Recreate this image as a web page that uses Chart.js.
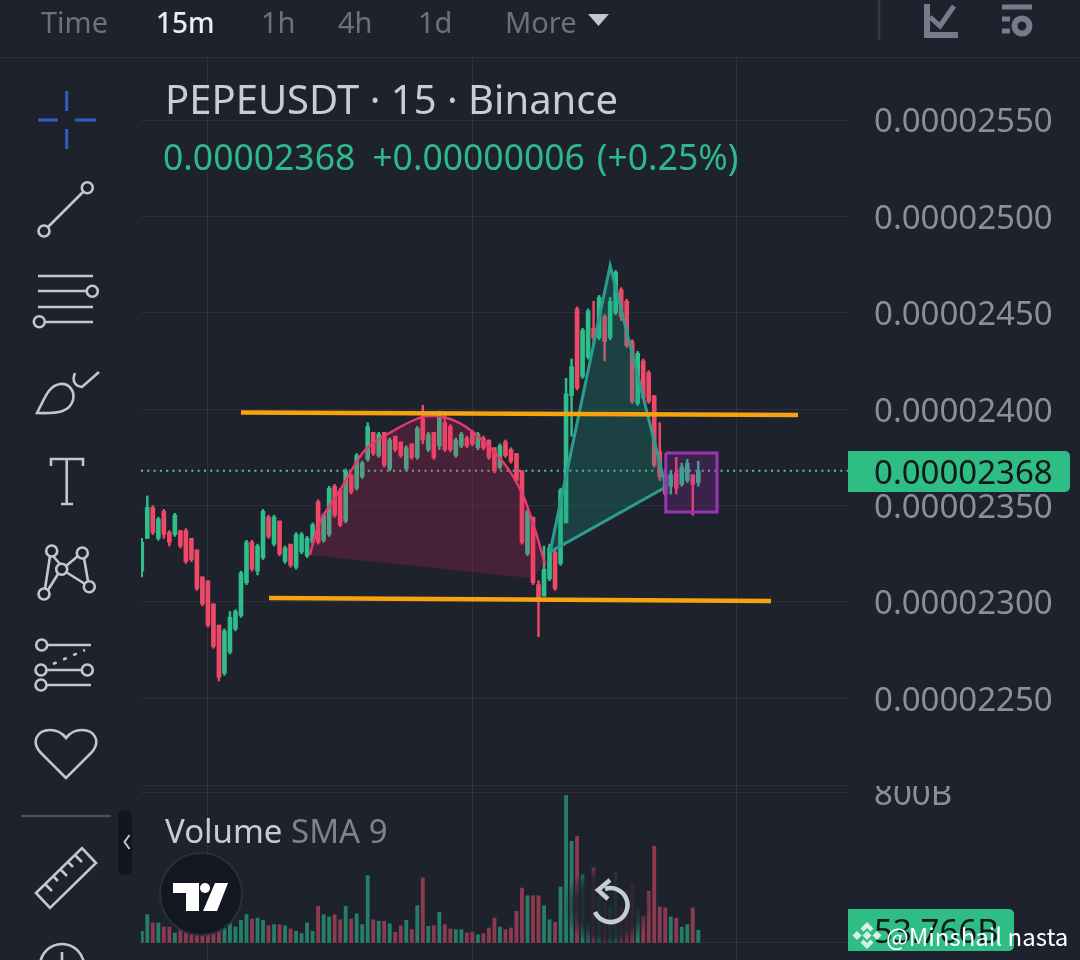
<!DOCTYPE html>
<html><head><meta charset="utf-8">
<style>
html,body{margin:0;padding:0;background:#1e222d;width:1080px;height:960px;overflow:hidden}
#wrap{position:relative;width:1080px;height:960px;font-family:'Noto Sans',Roboto,sans-serif}
canvas{position:absolute;left:0;top:0;filter:blur(.45px)}
.t{position:absolute;white-space:nowrap;line-height:1;z-index:3}
.tab{top:7px;font-size:29px;color:#6c717b}
.pill{position:absolute;background:#2ebd85;border-radius:0 5px 5px 0;z-index:2}
svg.ov{position:absolute;left:0;top:0;z-index:4;pointer-events:none}
#mask{position:absolute;left:849px;top:770px;width:231px;height:16px;background:#1e222d;z-index:2}
.hl{position:absolute;background:rgba(255,255,255,.06);height:1px;z-index:1}
</style>
<script src="https://cdn.jsdelivr.net/npm/chart.js@4"></script>
</head><body><div id="wrap">
<canvas id="c" width="1080" height="960"></canvas>
<div id="mask"></div>
<div class="hl" style="left:0;top:57px;width:1080px"></div>
<div class="hl" style="left:141px;top:785px;width:939px"></div>
<div class="t tab" style="left:41px">Time</div>
<div class="t tab" style="left:156px;color:#eceef1;font-weight:500;font-size:28px;top:8px">15m</div>
<div class="t tab" style="left:261px">1h</div>
<div class="t tab" style="left:338px">4h</div>
<div class="t tab" style="left:418px">1d</div>
<div class="t tab" style="left:505px">More</div>
<div class="t" style="left:165px;top:79px;font-size:40px;color:#c9ccd2">PEPEUSDT · 15 · Binance</div>
<div class="t" style="left:163px;top:139px;font-size:35.500px;color:#2eb98a">0.00002368<span style="margin-left:17px">+0.00000006</span><span style="margin-left:12px">(+0.25%)</span></div>
<div class="t" style="left:165px;top:814px;font-size:33px;color:#c9ccd2">Volume <span style="color:#7d828c">SMA 9</span></div>
<div class="pill" style="left:848px;top:451px;width:222px;height:41px"></div>
<div class="t" style="left:874px;top:455px;font-size:33px;color:#14171c">0.00002368</div>
<div class="pill" style="left:848px;top:909px;width:166px;height:42px"></div>
<div class="t" style="left:874px;top:914px;font-size:33px;color:#14171c">53.766B</div>
<div class="t" style="left:886px;top:924px;font-size:24px;color:#fff;font-family:'Noto Sans CJK SC','Noto Sans',sans-serif;z-index:6">@Minshail nasta</div>
<svg class="ov" width="1080" height="960" fill="none" stroke="#c3c6cc" stroke-width="2.6">
<defs><radialGradient id="halo"><stop offset="0.7" stop-color="#1e222d" stop-opacity=".85"/><stop offset="1" stop-color="#1e222d" stop-opacity="0"/></radialGradient></defs>
<path d="M588 14h21l-10.5 12z" fill="#c3c6cc" stroke="none"/>
<path d="M879 0v40" stroke="#343a46"/>
<g stroke="#757b8a" stroke-width="6"><path d="M927 4v31h31"/><path d="M930 17l10 9 14-20" stroke-width="5"/></g>
<g stroke="#757b8a" stroke-width="5"><path d="M1002 7h30M1002 19h8M1002 31h8"/></g>
<circle cx="1022" cy="26" r="7.5" stroke="#757b8a" stroke-width="6"/>
<g stroke="#2f5fc4" stroke-width="3"><path d="M66.7 91v20M66.7 129v20M38 120h20M75 120h21"/></g>
<circle cx="44" cy="231" r="5.5"/><circle cx="87.3" cy="187.7" r="5.5"/><path d="M48 227l35.500-35.500"/>
<path d="M38 276h55M38 291h49M38 307h55M45 322h48"/><circle cx="92.300" cy="291.300" r="5.500"/><circle cx="39.300" cy="321.700" r="5.500"/>
<path d="M37 413C45 398 48 386 60 384C70 383 75 392 73 400C70 411 60 414 37 413Z"/><path d="M75 373C72 380 74 386 82 387L99 372"/>
<path d="M51 466v-7h32v7M66.700 459v45M61 504h12"/>
<circle cx="51.700" cy="551" r="5.500"/><circle cx="82.300" cy="553" r="5.500"/><circle cx="61.700" cy="569.300" r="5.500"/><circle cx="44" cy="594" r="5.500"/><circle cx="89.300" cy="586.700" r="5.500"/>
<path d="M50 556L45 589M53 556L60 564M48 590L58 574M66 566L78 556M84 558L88 581M66 572L85 584"/>
<circle cx="41.700" cy="645" r="5.500"/><path d="M47 645h44"/><path d="M53 664L85 650" stroke-dasharray="4 7"/>
<circle cx="41" cy="670" r="5.500"/><circle cx="87.300" cy="670" r="5.500"/><path d="M46.500 670h35"/>
<circle cx="41" cy="685" r="5.500"/><path d="M46.500 685h44.500"/>
<path d="M66 778L41 753C30 741 38 730 50 730C58 730 63 734 66 738C69 734 74 730 82 730C94 730 102 741 91 753Z"/>
<path d="M21 816h90" stroke="#4a4f59"/>
<path d="M36 893L82 848L96 863L50 908Z"/><path d="M45 884l7 7M53 876l5 5M60 869l7 7M68 862l5 5M75 855l7 7"/>
<circle cx="62" cy="966" r="22"/><path d="M62 952v12"/>
<rect x="118" y="810" width="14" height="65" rx="6" fill="#13161e" stroke="none"/><path d="M129.500 835l-5 7 5 7" stroke-width="2"/>
<circle cx="201" cy="894" r="41" fill="#131722" stroke="#2b2f3a" stroke-width="2"/>
<path d="M173 883H199V911H186V893H173ZM215 883H228L217 911H203Z" fill="#fff" stroke="none"/><circle cx="205" cy="888" r="5" fill="#fff" stroke="none"/>
<circle cx="608" cy="906" r="44" fill="url(#halo)" stroke="none"/>
<path d="M605 889A17 17 0 1 1 595 912" stroke="#c8ccd3" stroke-width="4.500"/><path d="M610 880L598 890L608 899" stroke="#c8ccd3" stroke-width="4.500"/>
<g fill="#d9efe6" stroke="none"><path d="M867 922l6.500 6.500-3 3-3.500-3.500-3.500 3.500-3-3zM867 949l6.500-6.500-3-3-3.500 3.500-3.500-3.500-3 3zM867 931l4.500 4.500-4.500 4.500-4.500-4.500zM857 931l4.500 4.500-4.500 4.500-4.500-4.500zM877 931l4.500 4.500-4.500 4.500-4.500-4.500z"/></g>
</svg>
</div>
<script>
const opens=[2316,2333,2349,2333,2347,2336,2335,2337,2337,2333,2327,2313,2311,2299,2288,2263,2274,2286,2293,2310,2331,2316,2323,2344,2330,2342,2321,2330,2318,2326,2324,2331,2352,2332,2335,2360,2358,2342,2366,2359,2365,2374,2388,2376,2388,2369,2386,2383,2369,2382,2375,2395,2379,2388,2381,2393,2391,2376,2381,2385,2388,2380,2385,2384,2380,2370,2383,2379,2377,2368,2325,2344,2309,2303,2312,2326,2320,2341,2407,2452,2417,2427,2442,2437,2448,2437,2450,2462,2456,2435,2403,2425,2419,2407,2378,2366,2360,2367,2361,2363,2366,2362];
const closes=[2331,2349,2336,2343,2335,2331,2345,2329,2321,2322,2307,2299,2288,2277,2261,2285,2292,2295,2315,2331,2317,2329,2347,2334,2344,2325,2328,2319,2335,2335,2333,2340,2331,2345,2359,2345,2340,2368,2357,2376,2372,2391,2377,2387,2371,2384,2379,2376,2380,2375,2390,2384,2387,2375,2397,2379,2379,2384,2387,2381,2382,2387,2380,2375,2368,2381,2376,2373,2363,2331,2347,2310,2301,2317,2328,2307,2358,2408,2422,2411,2441,2451,2437,2458,2435,2456,2471,2448,2433,2404,2429,2406,2404,2371,2365,2356,2366,2359,2370,2372,2361,2368];
const highs=[2333,2355,2350,2344,2348,2337,2346,2337,2338,2333,2327,2313,2311,2299,2288,2286,2295,2296,2316,2332,2332,2330,2348,2345,2345,2342,2329,2330,2336,2336,2334,2341,2353,2346,2360,2361,2359,2369,2366,2377,2373,2393,2388,2388,2388,2385,2386,2383,2381,2382,2391,2402,2388,2388,2399,2397,2392,2385,2388,2386,2389,2388,2386,2384,2380,2382,2384,2380,2377,2368,2348,2344,2311,2329,2330,2327,2359,2416,2426,2453,2442,2452,2456,2459,2449,2458,2472,2463,2457,2436,2430,2426,2420,2407,2393,2367,2368,2375,2372,2374,2366,2373];
const lows=[2313,2333,2335,2332,2333,2329,2334,2328,2320,2321,2306,2298,2287,2276,2259,2262,2273,2285,2292,2309,2316,2314,2322,2333,2329,2324,2320,2318,2317,2325,2323,2330,2330,2331,2334,2344,2339,2341,2356,2358,2364,2373,2376,2375,2370,2368,2378,2375,2368,2374,2374,2382,2378,2374,2379,2378,2378,2375,2380,2380,2381,2379,2379,2374,2367,2369,2375,2372,2362,2330,2324,2309,2282,2303,2311,2306,2319,2341,2386,2410,2416,2426,2432,2436,2425,2436,2449,2446,2432,2403,2402,2405,2403,2370,2363,2355,2356,2356,2360,2362,2345,2360];
const volumes=[62,151,107,107,85,85,53,71,53,50,44,44,44,50,62,80,107,85,121,151,128,133,121,92,98,98,92,75,62,50,107,62,196,151,139,151,124,196,128,156,98,359,124,116,116,103,57,92,121,71,199,347,89,92,164,98,75,71,71,53,57,44,50,80,133,85,71,80,169,293,252,252,252,199,124,110,299,786,542,569,364,107,400,249,213,196,373,196,284,311,178,142,276,516,192,187,139,133,85,98,187,68];
const priceTicks=[2250,2300,2350,2400,2450,2500,2550];
const volumeTicks=[0,800];
const timeTicks=[12,60,108];
const lastPrice=2368;
const resistX=[18,119.1], resistY=[2398.3,2397];
const supportX=[23.1,114.2], supportY=[2302,2300.5];
const cupX=[30.5,32.3,36,40.5,45,51,55.4,60.1,65.7,69,71.4,73.2], cupY=[2324.4,2341.5,2358.1,2378.8,2387.7,2396,2395.4,2388.2,2372.1,2356.5,2337.3,2319.2];
const cupBaseX=[70.5,30.5], cupBaseY=[2312.4,2324.4];
const triX=[74.1,85,95.1,74.1], triY=[2326,2474.5,2359.6,2326];
const boxX=[95.1,104.4,104.4,95.1,95.1], boxY=[2377.3,2377.3,2346.7,2346.7,2377.3];

const GREEN='#2fbd8a',RED='#ee4a68',VG='#267d68',VR='#8c3a50';
const up=opens.map((o,i)=>closes[i]>=o);
const pts=(xs,ys)=>xs.map((x,i)=>({x,y:ys[i]}));
const line=(d,o)=>Object.assign({type:'line',data:d,yAxisID:'y',pointRadius:0,tension:0,fill:false},o);
const xMin=-0.145,xMax=128.17;
const noPad=s=>{s.paddingTop=0;s.paddingBottom=0;s.paddingLeft=0;s.paddingRight=0};
new Chart(document.getElementById('c'),{
 type:'bar',
 data:{datasets:[
  line(pts(resistX,resistY),{borderColor:'#f7a310',borderWidth:4.5,order:0}),
  line(pts(supportX,supportY),{borderColor:'#f7a310',borderWidth:4.5,order:0}),
  line(pts(boxX,boxY),{borderColor:'#9a35b5',backgroundColor:'rgba(156,39,176,.22)',borderWidth:3,fill:'shape',order:1}),
  line(pts(triX,triY),{borderColor:'#2a9d8f',backgroundColor:'rgba(20,160,130,.25)',borderWidth:3,fill:'shape',order:1}),
  line(pts(cupX,cupY),{borderColor:'#e43a6e',borderWidth:2.5,tension:.3,order:1}),
  line(pts(cupX.concat(cupBaseX),cupY.concat(cupBaseY)),{borderWidth:0,borderColor:'transparent',backgroundColor:'rgba(233,30,99,.2)',fill:'shape',order:1}),
  {label:'body',data:opens.map((o,i)=>({x:i,y:[o,closes[i]]})),yAxisID:'y',backgroundColor:up.map(u=>u?GREEN:RED),barThickness:4,grouped:false,order:2},
  {label:'wick',data:lows.map((l,i)=>({x:i,y:[l,highs[i]]})),yAxisID:'y',backgroundColor:up.map(u=>u?GREEN:RED),barThickness:1.8,grouped:false,order:3},
  line(pts([xMin,xMax],[lastPrice,lastPrice]),{borderColor:'#62bda4',borderWidth:2,borderDash:[2,4.3],order:5}),
  {label:'Volume',data:volumes.map((v,i)=>({x:i,y:v})),yAxisID:'v',backgroundColor:up.map(u=>u?VG:VR),barThickness:3.2,grouped:false,order:6}
 ]},
 options:{
  responsive:false,animation:false,devicePixelRatio:1,
  layout:{padding:{left:141,top:57,right:0,bottom:0}},
  plugins:{legend:{display:false},tooltip:{enabled:false},title:{display:false}},
  scales:{
   x:{type:'linear',offset:false,min:xMin,max:xMax,
      afterBuildTicks:s=>{s.ticks=timeTicks.map(value=>({value}))},
      afterFit:s=>{s.height=0;noPad(s)},
      grid:{offset:false,color:'rgba(255,255,255,.07)',drawTicks:false},border:{display:false},ticks:{display:false}},
   y:{position:'right',stack:'p',stackWeight:730,min:2204,max:2582.7,
      afterBuildTicks:s=>{s.ticks=priceTicks.map(value=>({value}))},
      afterFit:s=>{s.width=232;noPad(s)},
      grid:{color:'rgba(255,255,255,.06)',drawTicks:false},border:{display:false},
      ticks:{padding:26,labelOffset:3,color:'#8b8f98',font:{family:'Noto Sans',size:33},callback:v=>'0.0000'+v}},
   v:{position:'right',stack:'p',stackWeight:173,min:-90.7,max:832,
      afterBuildTicks:s=>{s.ticks=volumeTicks.map(value=>({value}))},
      afterFit:s=>{s.width=232;noPad(s)},
      grid:{color:'rgba(255,255,255,.06)',drawTicks:false},border:{display:false},
      ticks:{padding:26,labelOffset:3,color:'#8b8f98',font:{family:'Noto Sans',size:33},callback:v=>v===800?'800B':''}}
  }
 }
});
</script></body></html>
